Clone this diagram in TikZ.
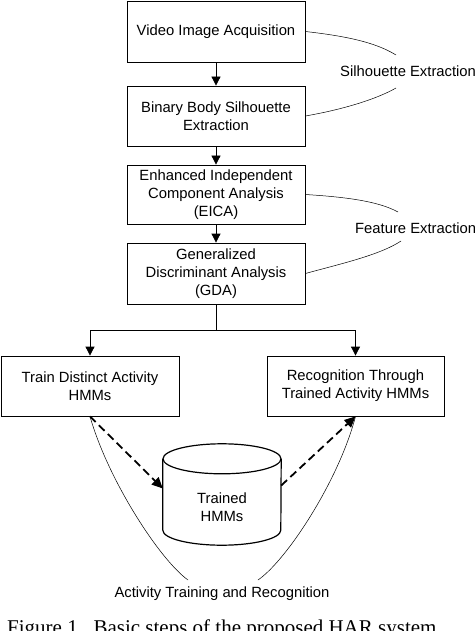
\documentclass[tikz,border=0pt]{standalone}
\usepackage{fontspec}
\setmainfont{Liberation Sans}
\newfontfamily\capfont{Liberation Serif}
\usetikzlibrary{arrows.meta}

\begin{document}
\begin{tikzpicture}[x=1pt, y=-1pt,
  every node/.style={font=\fontsize{14.8}{18}\selectfont},
  stage/.style={draw, line width=0.8pt, minimum width=178pt, align=center, inner sep=2pt},
  flow/.style={line width=0.8pt, -{Triangle[width=9pt,length=9pt]}},
  brace/.style={line width=0.5pt},
  feed/.style={line width=1.8pt, dash pattern=on 8pt off 4.5pt, -{Triangle[width=10pt,length=11pt]}}]
\clip (0,0) rectangle (474,631);

\node[stage, minimum height=61pt] (b1) at (216,31.5) {Video Image Acquisition};
\node[stage, minimum height=60pt] (b2) at (216,116) {Binary Body Silhouette\\Extraction};
\node[stage, minimum height=59pt] (b3) at (216,194.5) {Enhanced Independent\\Component Analysis\\(EICA)};
\node[stage, minimum height=61pt] (b4) at (216,273.5) {Generalized\\Discriminant Analysis\\(GDA)};
\node[stage, minimum height=60pt] (lt) at (90,386) {Train Distinct Activity\\HMMs};
\node[stage, minimum height=60pt, minimum width=177pt] (rt) at (355.5,386) {Recognition Through\\Trained Activity HMMs};

\node[minimum width=118pt, minimum height=101pt, inner sep=0pt] (db) at (222,494.5) {};
\draw[line width=1.2pt] ([yshift=-15pt]db.north) ellipse [x radius=59, y radius=15];
\draw[line width=1.2pt] ([yshift=-15pt]db.north west) -- ([yshift=15pt]db.south west)
  arc [start angle=180, end angle=0, x radius=59, y radius=15] -- ([yshift=-15pt]db.north east);
\node[align=center] (dbtext) at ([yshift=-12.5pt]db.center) {Trained\\HMMs};

\draw[flow] (b1) -- (b2);
\draw[flow] (b2) -- (b3);
\draw[flow] (b3) -- (b4);
\coordinate (split) at (216,330);
\draw[line width=0.8pt] (b4.south) -- (split);
\draw[flow] (split) -| (lt.north);
\draw[flow] (split) -| (rt.north);

\draw[feed] (lt.south) -- ([yshift=6pt]db.west);
\draw[feed] ([yshift=9pt]db.east) -- (rt.south);

\node[anchor=west, inner sep=0pt] (sil) at (340,71) {Silhouette Extraction};
\coordinate (s1) at (396,55);
\coordinate (s2) at (396,88);
\draw[brace] (b1.east) .. controls (345,36) and (375,42) .. (s1);
\draw[brace] (s2) .. controls (375,100) and (340,110) .. (b2.east);

\node[anchor=west, inner sep=0pt] (fea) at (355,228) {Feature Extraction};
\coordinate (f1) at (398,212);
\coordinate (f2) at (401,241);
\draw[brace] (b3.east) .. controls (345,197) and (378,201) .. (f1);
\draw[brace] (f2) .. controls (380,255) and (340,264) .. (b4.east);

\node (act) at (222,594) {Activity Training and Recognition};
\coordinate (a1) at (188,580);
\coordinate (a2) at (258,580);
\draw[brace] (lt.south) .. controls (108,480) and (160,560) .. (a1);
\draw[brace] (rt.south) .. controls (339,480) and (287,560) .. (a2);

\node[anchor=base west, inner sep=0pt, font=\capfont\fontsize{21}{24}\selectfont] (cap) at (7,634)
  {Figure 1.\ \ Basic steps of the proposed HAR system.};
\end{tikzpicture}
\end{document}
